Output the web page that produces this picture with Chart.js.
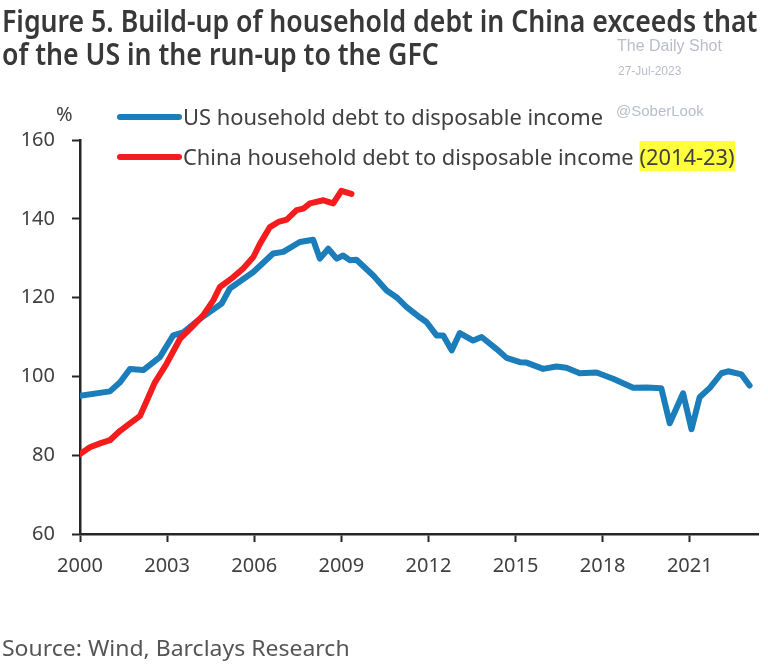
<!DOCTYPE html>
<html>
<head>
<meta charset="utf-8">
<script src="https://cdn.jsdelivr.net/npm/chart.js@4"></script>
<style>
  body { margin: 0; background: #fff; }
  #page { position: relative; width: 768px; height: 665px; overflow: hidden; font-family: 'Noto Sans', sans-serif; }
  #chart { position: absolute; left: 0; top: 0; }
  .fit { position: absolute; white-space: nowrap; transform-origin: 0 50%; }
  #titre { left: 2px; top: 4px; font-size: 30px; line-height: 33px; font-weight: 600; color: #383838; transform-origin: 0 0; }
  .marque { position: absolute; font-family: 'Liberation Sans', Arial, sans-serif; color: #b9bdc9; white-space: nowrap; }
  .leg-ligne { position: absolute; height: 6px; border-radius: 3px; }
  .leg-texte { font-size: 22px; color: #404040; line-height: 30px; }
  .surligne { background: #ffff3c; }
  #source { left: 2px; top: 632px; font-size: 22px; color: #555; line-height: 30px; }
  #pourcent { position: absolute; left: 56px; top: 100px; font-size: 20px; color: #404040; }
</style>
</head>
<body>
<div id="page">
  <canvas id="chart" width="768" height="665"></canvas>
  <div id="titre" class="fit" data-w="755">Figure 5. Build-up of household debt in China exceeds that<br>of the US in the run-up to the GFC</div>
  <div class="marque" style="left:617px;top:37px;font-size:16px;">The Daily Shot</div>
  <div class="marque" style="left:618px;top:64px;font-size:12px;">27-Jul-2023</div>
  <div class="marque" style="left:616px;top:102px;font-size:15px;">@SoberLook</div>
  <div id="pourcent">%</div>
  <div id="legende"></div>
  <div id="source" class="fit" data-w="348">Source: Wind, Barclays Research</div>
</div>
<script>
// ── DONNÉES ───────────────────────────────────────
const NOMS = ['US household debt to disposable income', 'China household debt to disposable income'];
const NOTE_CHINE = '(2014-23)';
const COULEURS = { us: '#1b7dba', chine: '#f41c1c', axe: '#262626', texte: '#404040' };

// China series is shifted onto the 2000 start to compare run-ups
const US_ANNEES = [2000.00, 2001.03, 2001.38, 2001.72, 2002.18, 2002.75, 2003.21, 2003.56, 2004.13, 2004.88,
  2005.16, 2005.97, 2006.65, 2007.00, 2007.57, 2008.03, 2008.26, 2008.55, 2008.84, 2009.06,
  2009.29, 2009.52, 2010.10, 2010.56, 2010.90, 2011.25, 2011.70, 2011.93, 2012.28, 2012.51,
  2012.80, 2013.08, 2013.54, 2013.83, 2014.34, 2014.69, 2015.15, 2015.38, 2015.95, 2016.41,
  2016.75, 2017.21, 2017.79, 2018.36, 2019.05, 2019.51, 2020.02, 2020.31, 2020.77, 2021.06,
  2021.34, 2021.69, 2022.09, 2022.32, 2022.78, 2023.06];
const US_VALEURS = [95.1, 96.2, 98.5, 101.9, 101.6, 104.9, 110.4, 111.2, 114.6, 118.5,
  122.3, 126.5, 131.2, 131.6, 134.1, 134.7, 129.9, 132.4, 129.9, 130.7,
  129.5, 129.6, 125.6, 121.8, 120.1, 117.6, 115.0, 113.8, 110.4, 110.4,
  106.6, 111.0, 109.1, 110.0, 107.0, 104.7, 103.6, 103.5, 101.9, 102.5,
  102.2, 100.8, 101.0, 99.4, 97.1, 97.2, 97.0, 88.1, 95.7, 86.6,
  94.7, 97.1, 100.8, 101.3, 100.5, 97.7];

const CHINE_ANNEES = [2000.00, 2000.34, 2000.69, 2001.03, 2001.38, 2001.72, 2002.07, 2002.30, 2002.58, 2002.98,
  2003.44, 2003.90, 2004.24, 2004.59, 2004.82, 2005.28, 2005.62, 2005.97, 2006.20, 2006.54,
  2006.83, 2007.12, 2007.46, 2007.69, 2007.92, 2008.38, 2008.72, 2009.00, 2009.35];
const CHINE_VALEURS = [80.3, 82.0, 83.0, 83.8, 86.2, 88.1, 90.0, 93.8, 98.5, 103.2,
  109.5, 112.9, 115.5, 119.3, 122.7, 125.2, 127.4, 130.3, 133.7, 137.9,
  139.2, 139.8, 142.2, 142.6, 143.9, 144.7, 143.9, 147.1, 146.3];

const TICKS_X = [2000, 2003, 2006, 2009, 2012, 2015, 2018, 2021];
const TICKS_Y = [60, 80, 100, 120, 140, 160];

// ── UTILITAIRES ───────────────────────────────────
function points(annees, valeurs) {
  return annees.map(function(a, i) { return { x: a, y: valeurs[i] }; });
}

// Compresse horizontalement un texte pour tenir dans la largeur du modèle
function ajuster(el) {
  const cible = parseFloat(el.dataset.w);
  const largeur = el.scrollWidth;
  if (largeur > 0) el.style.transform = 'scaleX(' + (cible / largeur) + ')';
}

// ── LÉGENDE HTML ──────────────────────────────────
function construireLegende() {
  const boite = document.getElementById('legende');
  const lignes = [
    { couleur: COULEURS.us,    y: 117, texte: NOMS[0], w: 420 },
    { couleur: COULEURS.chine, y: 157, texte: NOMS[1] + ' <span class="surligne">' + NOTE_CHINE + '</span>', w: 552 }
  ];
  lignes.forEach(function(l) {
    const trait = document.createElement('div');
    trait.className = 'leg-ligne';
    trait.style.cssText = 'left:117px;width:65px;top:' + (l.y - 3) + 'px;background:' + l.couleur;
    boite.appendChild(trait);
    const t = document.createElement('div');
    t.className = 'fit leg-texte';
    t.dataset.w = l.w;
    t.style.left = '183px';
    t.style.top = (l.y - 16) + 'px';
    t.innerHTML = l.texte;
    boite.appendChild(t);
  });
}

// ── GRAPHIQUE ─────────────────────────────────────
const POLICE = { family: "'Noto Sans', sans-serif", size: 20 };

function dessiner() {
  new Chart(document.getElementById('chart'), {
    type: 'line',
    data: {
      datasets: [
        {
          label: NOMS[0],
          data: points(US_ANNEES, US_VALEURS),
          borderColor: COULEURS.us,
          borderWidth: 6,
          pointRadius: 0,
          borderJoinStyle: 'round',
          borderCapStyle: 'round',
          order: 1
        },
        {
          label: NOMS[1] + ' ' + NOTE_CHINE,
          data: points(CHINE_ANNEES, CHINE_VALEURS),
          borderColor: COULEURS.chine,
          borderWidth: 6,
          pointRadius: 0,
          borderJoinStyle: 'round',
          borderCapStyle: 'round',
          order: 0
        }
      ]
    },
    options: {
      responsive: false,
      animation: false,
      layout: { padding: { top: 140, right: 10, left: 0, bottom: 0 } },
      plugins: { legend: { display: false }, tooltip: { enabled: false } },
      scales: {
        x: {
          type: 'linear',
          min: 2000,
          max: 2023.35,
          afterBuildTicks: function(s) { s.ticks = TICKS_X.map(function(v) { return { value: v }; }); },
          afterFit: function(s) { s.height = 131; },
          border: { display: true, color: COULEURS.axe, width: 2.5 },
          grid: { drawOnChartArea: false, drawTicks: true, tickLength: 8, tickWidth: 2, tickColor: COULEURS.axe },
          ticks: { color: COULEURS.texte, font: POLICE, padding: 12, maxRotation: 0, autoSkip: false,
                   callback: function(v) { return String(v); } }
        },
        y: {
          min: 60,
          max: 160,
          afterBuildTicks: function(s) { s.ticks = TICKS_Y.map(function(v) { return { value: v }; }); },
          afterFit: function(s) { s.width = 80; },
          border: { display: true, color: COULEURS.axe, width: 2.5 },
          grid: { drawOnChartArea: false, drawTicks: true, tickLength: 8, tickWidth: 2, tickColor: COULEURS.axe },
          ticks: { color: COULEURS.texte, font: POLICE, padding: 17 }
        }
      }
    }
  });
}

construireLegende();
document.fonts.ready.then(function() {
  document.querySelectorAll('.fit').forEach(ajuster);
});
dessiner();
</script>
</body>
</html>
